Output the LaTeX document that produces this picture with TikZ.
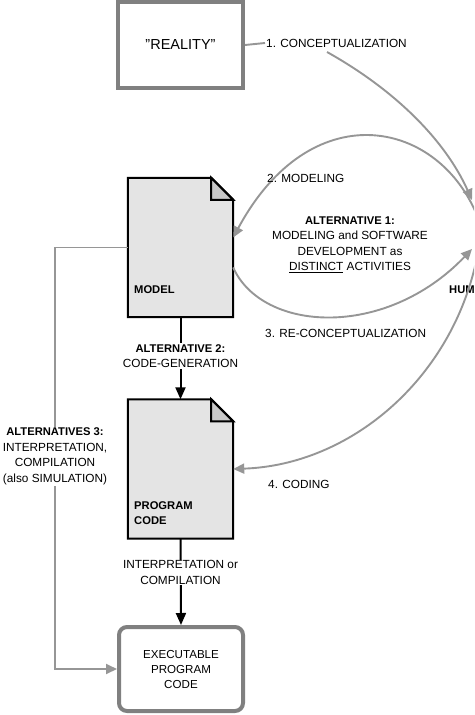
\documentclass[tikz,border=0pt]{standalone}
\usepackage{fontspec}
\setmainfont{Liberation Sans}
\usetikzlibrary{arrows.meta}
\definecolor{conn}{RGB}{150,150,150}
\definecolor{boxb}{RGB}{128,128,128}
\definecolor{docfill}{RGB}{228,228,228}
\definecolor{foldfill}{RGB}{200,200,200}
\newcommand{\bl}[1]{{\bfseries\fontsize{11.2}{15.5}\selectfont #1}}
\begin{document}
\begin{tikzpicture}[x=1pt,y=-1pt,
  txt/.style={font=\fontsize{11.8}{15.5}\selectfont, inner sep=1pt, align=center},
  btxt/.style={font=\bfseries\fontsize{11.2}{15}\selectfont, inner sep=1pt, align=left},
  thickbox/.style={draw=boxb, line width=4pt, fill=white, minimum width=125pt, minimum height=86pt, inner sep=0pt},
  docframe/.style={draw=none, minimum width=105pt, minimum height=139pt, inner sep=0pt},
  docline/.style={draw=black, line width=2pt, line join=miter},
  grayarrow/.style={draw=conn, line width=1.9pt, -{Triangle[length=11pt,width=10pt]}},
  grayline/.style={draw=conn, line width=1.9pt},
  blackarrow/.style={draw=black, line width=2pt, -{Triangle[length=12pt,width=10pt]}},
  lbl/.style={txt, fill=white}
]
\useasboundingbox (0,0) rectangle (474,715);
\clip (0,0) rectangle (474,715);

% boxes
\node[thickbox, font=\fontsize{14.5}{17}\selectfont] (reality) at (180.5,45) {"REALITY"};
\node[thickbox, rounded corners=8pt, minimum width=124pt, minimum height=84pt, font=\fontsize{11.6}{15}\selectfont, align=center] (exec) at (181,669) {EXECUTABLE\\PROGRAM\\CODE};

% documents
\node[docframe] (model) at (180.5,247.5) {};
\node[docframe] (prog) at (180.5,469) {};
\foreach \d in {model,prog}{
  \draw[docline, fill=docfill] (\d.north west) -- ([xshift=-22pt]\d.north east) -- ([yshift=-22pt]\d.north east) -- (\d.south east) -- (\d.south west) -- cycle;
  \draw[docline, fill=foldfill] ([xshift=-22pt]\d.north east) -- ([xshift=-22pt,yshift=-22pt]\d.north east) -- ([yshift=-22pt]\d.north east) -- cycle;
}
\node[btxt, anchor=west] (modeltxt) at (133,290) {MODEL};
\node[btxt, anchor=west] (progtxt) at (133,513.5) {PROGRAM\\CODE};

% human (cut off at the right edge in the reference)
\node[btxt, anchor=west] (human) at (448,290) {HUM};
\coordinate (h1) at (472,200);
\coordinate (h2) at (476,213);
\coordinate (h3) at (472,249);
\coordinate (h4) at (476,262);

% 1. conceptualization
\node[txt, anchor=west] (l1) at (265,43) {1. CONCEPTUALIZATION};
\draw[grayline] (reality.east) -- (l1.west);
\coordinate (c1) at (327,52);
\draw[grayarrow] (c1) .. controls (395,90) and (445,140) .. (h1);

% 2. modeling
\draw[grayarrow] (h2) .. controls (435,118) and (310,95) .. ([yshift=10pt]model.east);
\node[txt, anchor=west] (l2) at (266,178) {2. MODELING};

% 3. re-conceptualization
\draw[grayarrow] ([yshift=-20pt]model.east) .. controls (262,332) and (385,340) .. (h3);
\node[txt, anchor=west] (l3) at (264,333) {3. RE-CONCEPTUALIZATION};

% 4. coding
\draw[grayarrow] (h4) .. controls (450,380) and (350,465) .. (prog.east);
\node[txt, anchor=west] (l4) at (267,484) {4. CODING};

% alternative 1
\node[txt] (alt1) at (350,244.5) {\bl{ALTERNATIVE 1:}\\MODELING and SOFTWARE\\DEVELOPMENT as\\\underline{DISTINCT} ACTIVITIES};

% alternative 2
\draw[blackarrow] (model.south) -- (prog.north);
\node[lbl] (alt2) at (180.5,356) {\bl{ALTERNATIVE 2:}\\CODE-GENERATION};

% interpretation
\draw[blackarrow] (prog.south) -- (exec.north);
\node[lbl] (interp) at (180.5,572.5) {INTERPRETATION or\\COMPILATION};

% alternatives 3
\coordinate (a3top) at (55,247.5);
\coordinate (a3bot) at (55,669);
\draw[grayarrow] (model.west) -- (a3top) -- (a3bot) -- (exec.west);
\node[lbl] (alt3) at (55,456.5) {\bl{ALTERNATIVES 3:}\\INTERPRETATION,\\COMPILATION\\(also SIMULATION)};
\end{tikzpicture}
\end{document}
